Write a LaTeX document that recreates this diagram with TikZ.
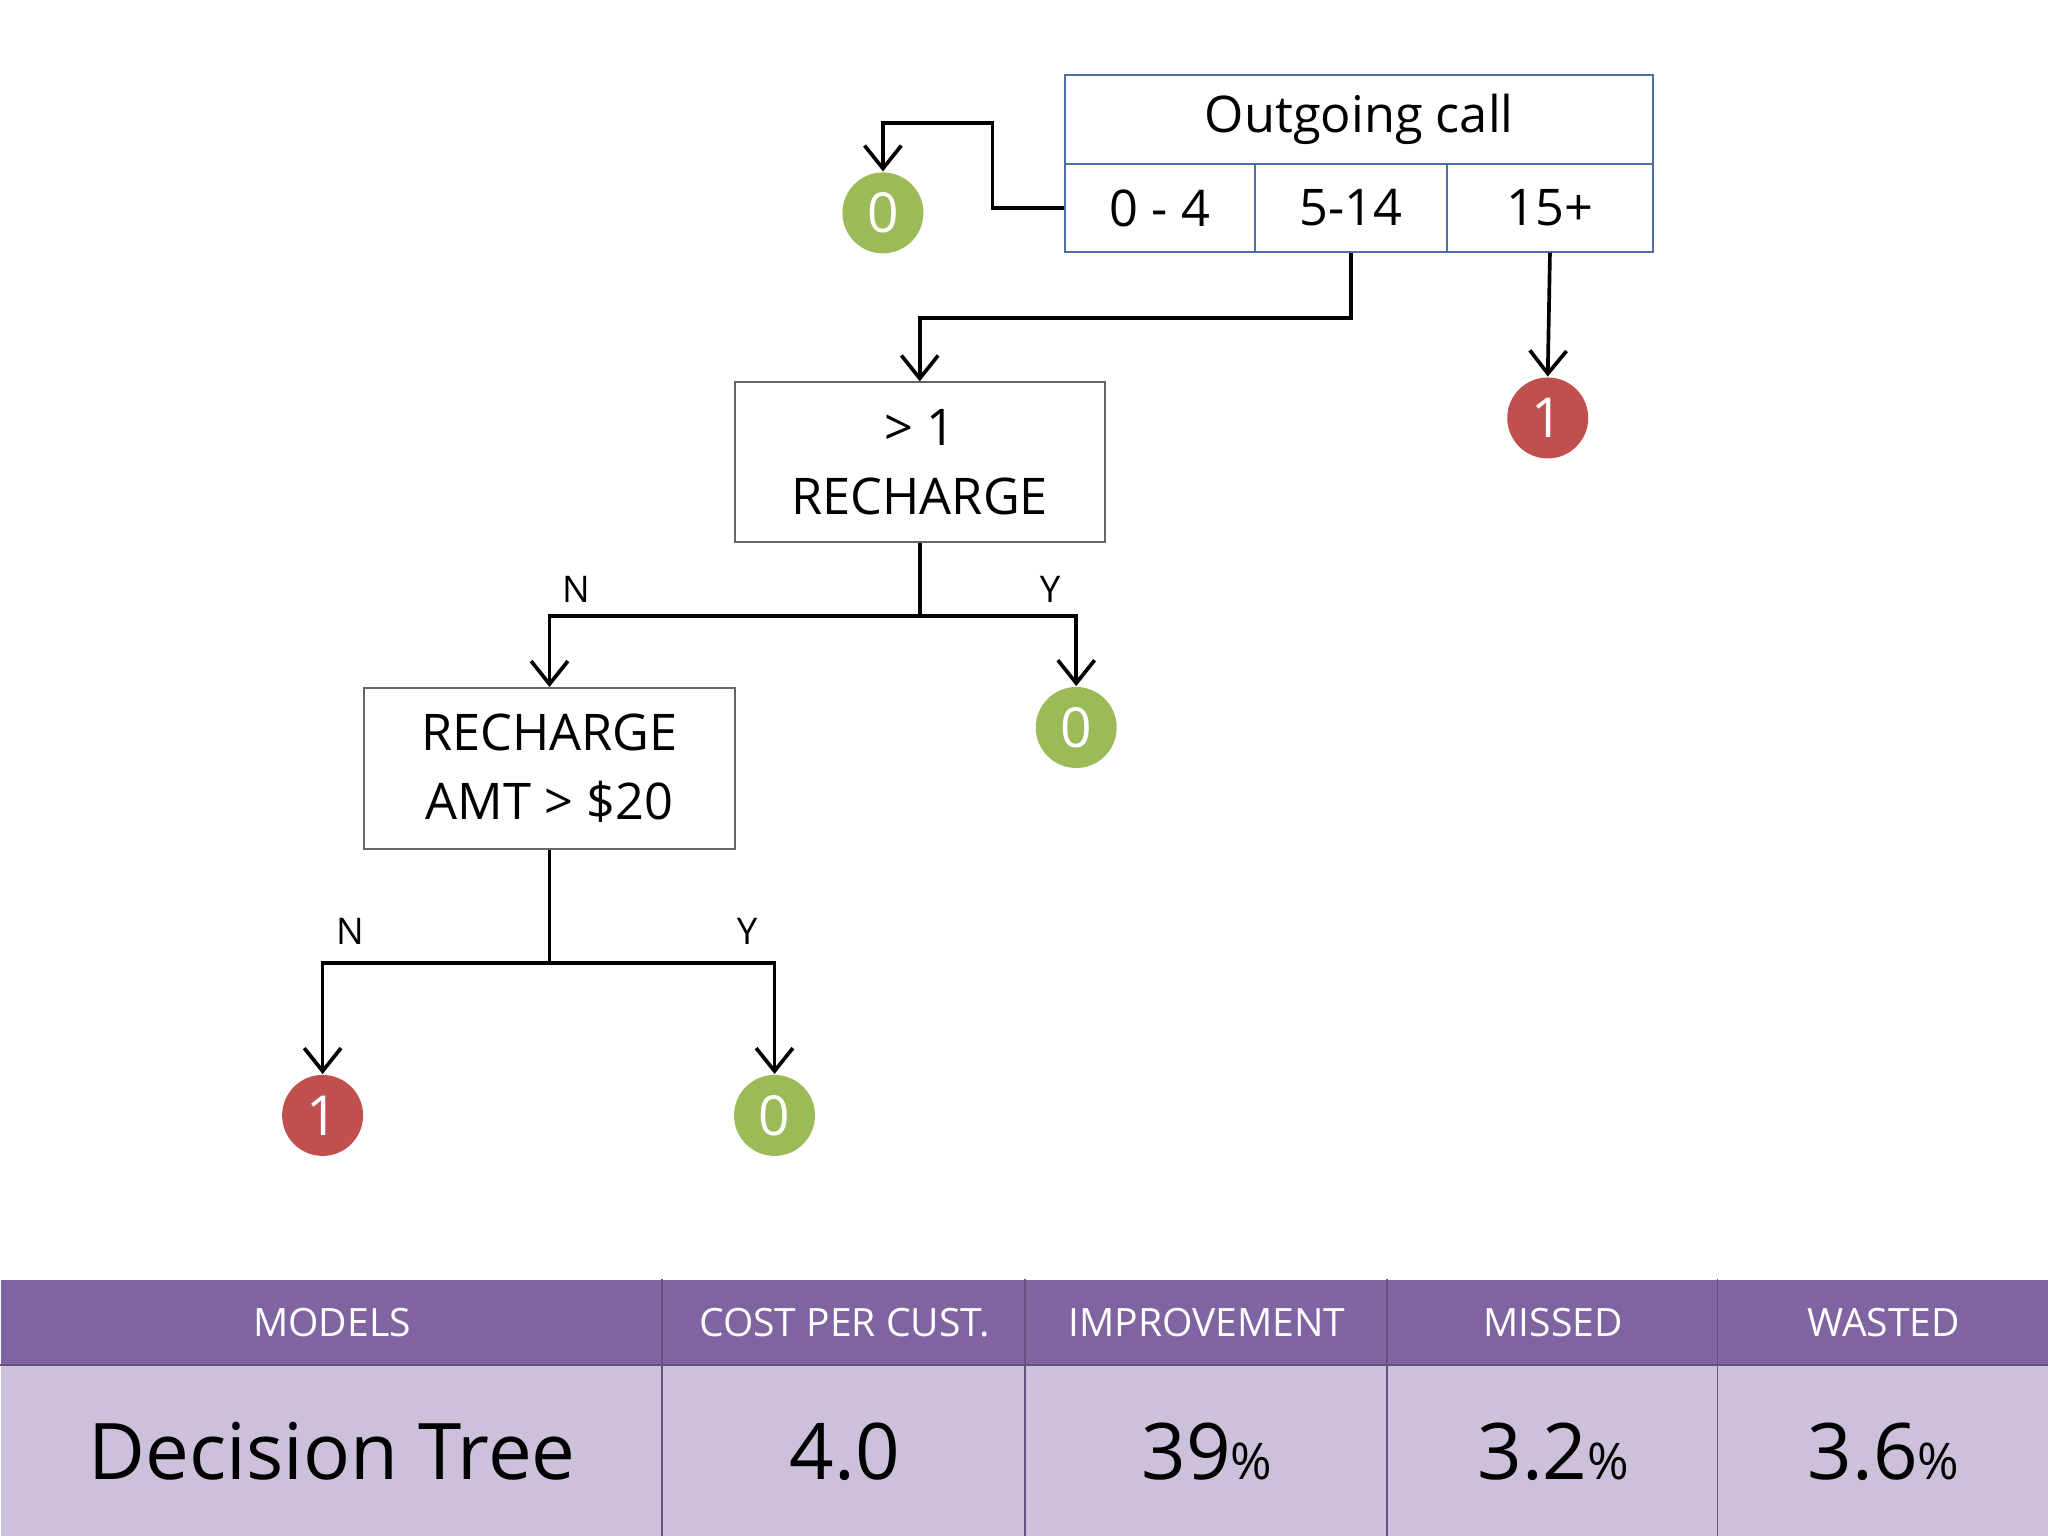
\documentclass[tikz,border=0pt]{standalone}
\usepackage{fontspec}
\setmainfont{Open Sans}
\usetikzlibrary{arrows.meta}
\definecolor{leafgreen}{HTML}{9BBB59}
\definecolor{leafred}{HTML}{C0504D}
\definecolor{headpurple}{HTML}{8064A2}
\definecolor{rowpurple}{HTML}{CCC0DA}
\definecolor{cellblue}{HTML}{4F6FA8}
\newcommand{\leafsize}{62}
\begin{document}
\begin{tikzpicture}[x=0.01cm,y=-0.01cm]
    \useasboundingbox (0,0) rectangle (1568,1176);
    \tikzset{
        split/.style={draw=black!60,thin,align=center,font=\fontsize{11}{15}\selectfont,anchor=north west,inner sep=0pt},
        cell/.style={draw=cellblue,thin,font=\fontsize{11}{13}\selectfont,anchor=north west,inner sep=0pt},
        leaf/.style={circle,text=white,minimum size=\leafsize*0.01cm,inner sep=0pt,font=\fontsize{12}{14}\selectfont},
        yes/.style={leaf,fill=leafgreen},
        no/.style={leaf,fill=leafred},
        branch/.style={font=\fontsize{8}{10}\selectfont},
        link/.style={draw=black,thick,-{Straight Barb[length=5pt,width=8pt]}},
        head/.style={fill=headpurple,text=white,font=\fontsize{8.5}{10}\selectfont,anchor=north west,inner sep=0pt},
        row/.style={fill=rowpurple,text=black,font=\fontsize{17}{20}\selectfont,anchor=north west,inner sep=0pt}
    }

    % root split
    \node[cell,minimum width=450*0.01cm,minimum height=68*0.01cm] (root) at (815,57) {Outgoing call};
    \node[cell,minimum width=145*0.01cm,minimum height=67*0.01cm] (lo) at (815,125) {0 - 4};
    \node[cell,minimum width=147*0.01cm,minimum height=67*0.01cm] (mid) at (960,125) {5-14};
    \node[cell,minimum width=158*0.01cm,minimum height=67*0.01cm] (hi) at (1107,125) {15+};

    \node[split,minimum width=283*0.01cm,minimum height=122*0.01cm] (rech) at (562,292) {> 1\\RECHARGE};
    \node[split,minimum width=284*0.01cm,minimum height=123*0.01cm] (amt) at (278,526) {RECHARGE\\AMT > \$20};

    \node[yes] (l1) at (676,163) {0};
    \node[no] (l2) at (1185,320) {1};
    \node[yes] (l3) at (824,557) {0};
    \node[no] (l4) at (247,854) {1};
    \node[yes] (l5) at (593,854) {0};

    \node[branch] (n1) at (441,451) {N};
    \node[branch] (y1) at (804,451) {Y};
    \node[branch] (n2) at (268,713) {N};
    \node[branch] (y2) at (572,713) {Y};

    % connectors
    \draw[link] (lo.west) -- ++(-55,0) |- ++(-84,-65) -- (l1.north);
    \draw[link] (mid.south) -- ++(0,50) -| (rech.north);
    \draw[link] (hi.south) -- (l2.north);
    \draw[link] (rech.south) -- ++(0,56) -| (amt.north);
    \draw[link] (rech.south) -- ++(0,56) -| (l3.north);
    \draw[link] (amt.south) -- ++(0,87) -| (l4.north);
    \draw[link] (amt.south) -- ++(0,87) -| (l5.north);

    % results table
    \foreach \x/\w/\h/\v [count=\i] in {0/507/MODELS/Decision Tree,507/278/COST PER CUST./4.0,
        785/277/IMPROVEMENT/39{\fontsize{11}{12}\selectfont\%},1062/253/MISSED/3.2{\fontsize{11}{12}\selectfont\%},
        1315/253/WASTED/3.6{\fontsize{11}{12}\selectfont\%}} {
        \node[head,minimum width=\w*0.01cm,minimum height=66*0.01cm] (h\i) at (\x,979) {\h};
        \node[row,minimum width=\w*0.01cm,minimum height=131*0.01cm] (r\i) at (\x,1045) {\v};
    }
    \foreach \x in {507,785,1062,1315} {
        \draw[headpurple!80!black,thin] (\x,979) -- (\x,1176);
    }
    \draw[headpurple!80!black,thin] (0,1045) -- (1568,1045);
\end{tikzpicture}
\end{document}
